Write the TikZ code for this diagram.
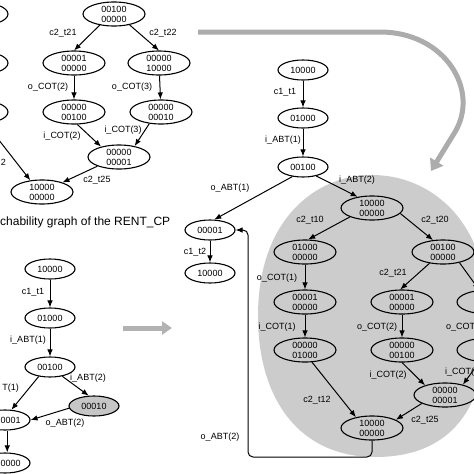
\documentclass[tikz,border=0pt]{standalone}
\usepackage{fontspec}
\setmainfont{Liberation Sans}
\usetikzlibrary{shapes.geometric,arrows.meta}
\tikzset{
  st/.style={ellipse,draw,line width=1.1pt,inner sep=0pt,minimum width=62pt,minimum height=24pt,align=center,font=\fontsize{9}{10}\selectfont},
  sto/.style={ellipse,draw,line width=1.1pt,inner sep=0pt,minimum width=50pt,minimum height=20pt,font=\fontsize{9}{10}\selectfont},
  shd/.style={fill=gray!45},
  lbl/.style={inner sep=0pt,font=\fontsize{9}{10}\selectfont},
  arr/.style={-{Latex[length=7pt,width=5.5pt]},line width=1pt},
  bigarr/.style={-{Triangle[length=11pt,width=15pt]},line width=5pt,draw=gray!65},
}
\begin{document}
\begin{tikzpicture}[x=1pt,y=-1pt]
\useasboundingbox (0,0) rectangle (474,474);
\clip (0,0) rectangle (474,474);
\fill[white] (0,0) rectangle (474,474);
% shaded region
\fill[gray!40] (372,175) .. controls (430,175) and (488,220) .. (488,316)
  .. controls (488,410) and (450,457) .. (375,457)
  .. controls (300,457) and (258,400) .. (258,316)
  .. controls (258,220) and (315,175) .. (372,175) -- cycle;

% ---------- top-left graph ----------
\node[st] (tA) at (114,14) {00100\\00000};
\node[st] (tL1) at (-23,14) {};
\node[st] (tL2) at (-23,63) {};
\node[st] (tL3) at (-23,112) {};
\node[st] (tB) at (74,63) {00001\\00000};
\node[st] (tC) at (159,63) {00000\\10000};
\node[st] (tD) at (74,112) {00000\\00100};
\node[st] (tE) at (161,112) {00000\\00010};
\node[st] (tG) at (119,157) {00000\\00001};
\node[st] (tF) at (42,192) {10000\\00000};
\draw[arr] (tA.218) -- (tB.north);
\draw[arr] (tA.325) -- (tC.north);
\draw[arr] (tB) -- (tD);
\draw[arr] (tC) -- (tE);
\draw[arr] (tD.285) -- (tG.150);
\draw[arr] (tE.225) -- (tG.35);
\draw[arr] (tG.203) -- (tF.25);
\draw[arr] (tL3) -- (tF.135);
\node[lbl] (l1) at (63,33) {c2\_t21};
\node[lbl] (l2) at (163,33) {c2\_t22};
\node[lbl] (l3) at (48,87) {o\_COT(2)};
\node[lbl] (l4) at (132,87) {o\_COT(3)};
\node[lbl] (l5) at (62,136) {i\_COT(2)};
\node[lbl] (l6) at (123,130) {i\_COT(3)};
\node[lbl] (l7) at (97,180) {c2\_t25};
\node[lbl,anchor=east] (l8) at (6,162) {2};
\node[inner sep=0pt,anchor=west,font=\fontsize{12}{14}\selectfont] (cap) at (0,222) {chability graph of the RENT\_CP};

% ---------- big curved arrow ----------
\coordinate (ba1) at (198,32);
\coordinate (ba2) at (380,32);
\coordinate (ba3) at (455,132);
\coordinate (ba4) at (431,171);
\draw[bigarr] (ba1) -- (ba2) .. controls (445,32) and (480,90) .. (ba3) -- (ba4);

% ---------- right graph ----------
\node[sto] (r1) at (303,70) {10000};
\node[sto] (r2) at (303,118) {01000};
\node[sto] (r3) at (303,167) {00100};
\node[sto] (r4) at (210,230) {00001};
\node[sto] (r5) at (210,273) {10000};
\node[st] (s1) at (372,208) {10000\\00000};
\node[st] (s2) at (305,252) {01000\\00000};
\node[st] (s3) at (305,302) {00001\\00000};
\node[st] (s4) at (305,350) {00000\\01000};
\node[st] (s5) at (443,252) {00100\\00000};
\node[st] (s6) at (402,302) {00001\\00000};
\node[st] (s7) at (402,350) {00000\\00100};
\node[st] (s8) at (445,395) {00000\\00001};
\node[st] (s9) at (372,428) {10000\\00000};
\node[st] (p1) at (488,302) {};
\node[st] (p2) at (488,350) {};
\draw[arr] (r1) -- (r2);
\draw[arr] (r2) -- (r3);
\draw[arr] (r3.222) -- (r4.68);
\draw[arr] (r3.326) -- (s1.142);
\draw[arr] (r4) -- (r5);
\draw[arr] (s1.202) -- (s2.76);
\draw[arr] (s1.349) -- (s5.130);
\draw[arr] (s2) -- (s3);
\draw[arr] (s3) -- (s4);
\draw[arr] (s4.300) -- (s9.146);
\draw[arr] (s5.220) -- (s6.98);
\draw[arr] (s5.327) -- (p1);
\draw[arr] (s6) -- (s7);
\draw[arr] (p1) -- (p2);
\draw[arr] (s7.270) -- (s8.154);
\draw[arr] (p2) -- (s8.30);
\draw[arr] (s8.200) -- (s9.19);
\coordinate (lp) at (248,457);
\draw[arr,rounded corners=5pt] (s9.south) |- (lp) |- (r4.east);
\node[lbl] (m1) at (285,92) {c1\_t1};
\node[lbl] (m2) at (283,140) {i\_ABT(1)};
\node[lbl] (m3) at (230,188) {o\_ABT(1)};
\node[lbl] (m4) at (357,180) {i\_ABT(2)};
\node[lbl] (m5) at (195,252) {c1\_t2};
\node[lbl] (m6) at (310,220) {c2\_t10};
\node[lbl] (m7) at (435,220) {c2\_t20};
\node[lbl] (m8) at (277,278) {o\_COT(1)};
\node[lbl] (m9) at (277,327) {i\_COT(1)};
\node[lbl] (m10) at (317,400) {c2\_t12};
\node[lbl] (m11) at (393,273) {c2\_t21};
\node[lbl] (m12) at (377,327) {o\_COT(2)};
\node[lbl,anchor=west] (m13) at (446,327) {o\_COT};
\node[lbl] (m14) at (388,375) {i\_COT(2)};
\node[lbl,anchor=west] (m15) at (445,372) {i\_COT(};
\node[lbl] (m16) at (425,420) {c2\_t25};
\node[lbl] (m17) at (220,437) {o\_ABT(2)};

% ---------- bottom-left graph ----------
\node[sto] (b1) at (50,269) {10000};
\node[sto] (b2) at (50,318) {01000};
\node[sto] (b3) at (50,367) {00100};
\node[sto,shd] (b4) at (94,406) {00010};
\node[sto] (b5) at (5,420) {};
\node[sto] (b6) at (5,463) {};
\node[lbl,anchor=west] (b5t) at (0.5,420) {0001};
\node[lbl,anchor=west] (b6t) at (0.5,463) {0000};
\draw[arr] (b1) -- (b2);
\draw[arr] (b2) -- (b3);
\draw[arr] (b3.220) -- (b5.58);
\draw[arr] (b3.323) -- (b4.117);
\draw[arr] (b4.185) -- (b5.east);
\draw[arr] (b5.282) -- (b6.78);
\node[lbl] (n1) at (33,292) {c1\_t1};
\node[lbl] (n2) at (28,340) {i\_ABT(1)};
\node[lbl,anchor=east] (n3) at (19,388) {T(1)};
\node[lbl] (n4) at (88,378) {i\_ABT(2)};
\node[lbl] (n5) at (65,423) {o\_ABT(2)};

% ---------- small middle arrow ----------
\coordinate (ma1) at (123,328);
\coordinate (ma2) at (172,328);
\draw[-{Triangle[length=10pt,width=13pt]},line width=5pt,draw=gray!60] (ma1) -- (ma2);
\end{tikzpicture}
\end{document}
